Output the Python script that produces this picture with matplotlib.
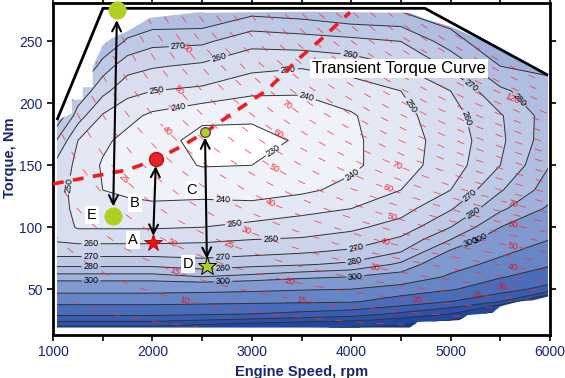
import matplotlib
matplotlib.use("Agg")
import matplotlib.pyplot as plt
import numpy as np
from matplotlib.colors import ListedColormap, BoundaryNorm
from matplotlib.patches import Polygon

plt.rcParams['font.family'] = ['Liberation Sans', 'DejaVu Sans']

# ---- BSFC map (g/kWh) ----
speed_nodes = [1000, 1250, 1500, 1750, 2000, 2500, 3000, 3500, 4000, 4500, 5000, 5500, 6000]
torque_nodes = [15, 20, 25, 30, 40, 50, 60, 70, 80, 90, 100, 115, 130, 150, 170, 190, 210, 230, 250, 280]
bsfc_by_speed = [
    [600, 500, 437, 388, 337, 312, 294, 277, 266, 259, 257, 256, 256, 260, 273, 293, 310, 320, 330, 340],
    [600, 500, 437, 388, 337, 312, 294, 277, 266, 257, 249, 247, 246, 247, 250, 265, 278, 297, 315, 330],
    [600, 500, 437, 388, 337, 312, 294, 277, 266, 257, 249, 243, 240, 239, 242, 249, 263, 275, 291, 315],
    [600, 500, 437, 388, 337, 312, 294, 277, 266, 257, 249, 243, 238, 236, 237, 243, 253, 264, 278, 300],
    [600, 500, 437, 388, 337, 312, 294, 277, 266, 257, 249, 242, 237, 234, 234, 238, 250, 261, 273, 295],
    [620, 520, 450, 393, 339, 313, 290, 274, 266, 258, 250, 243, 237, 229.5, 227, 232, 248, 258, 272, 295],
    [640, 540, 462, 400, 341, 315, 293, 277, 267, 260, 253, 243, 236, 230, 226, 232, 242, 253, 263, 288],
    [660, 560, 475, 412, 343, 318, 297, 279, 269, 261, 255, 247, 238, 233, 231.5, 235, 241, 251, 265, 290],
    [700, 580, 488, 425, 346, 320, 300, 282, 272, 264, 258, 250, 243, 238, 238, 239, 245, 254, 267, 295],
    [750, 620, 520, 460, 368, 329, 305, 292, 280, 272, 264, 256, 250, 246, 246, 247, 250, 260, 270, 295],
    [800, 700, 600, 500, 400, 346, 323, 312, 302, 290, 280, 269, 260, 255, 254, 256, 260, 272, 285, 300],
    [800, 750, 700, 650, 450, 375, 347, 326, 316, 308, 300, 288, 279, 270, 268, 269, 278, 290, 300, 310],
    [800, 780, 760, 740, 600, 420, 370, 346, 330, 320, 313, 302, 295, 290, 286, 285, 287, 292, 300, 310],
]
fill_levels = [220, 230, 240, 250, 260, 270, 280, 290, 300, 320, 350, 400, 450, 500, 600, 900]
line_levels = [230, 240, 250, 260, 270, 280, 290, 300, 320, 350, 400, 450, 500, 600]

# outline of the measured region
map_edge_speed = [1040, 1040, 1190, 1190, 1300, 1300, 1400, 1400, 1500, 1600, 1745, 1975, 2410, 3590,
                  4590, 4750, 5000, 5370, 5800, 5980, 5980, 5830, 5680, 5500, 5420, 5170, 5090, 4670, 4590, 1040]
map_edge_torque = [19, 186, 192, 203, 203, 213, 213, 229, 247, 253, 258, 269, 273, 274,
                   273, 268, 262, 249, 229, 223, 44, 41, 40, 36, 31, 29, 25, 23.5, 19, 19]

# full load torque curve
wot_speed = [1040, 1503, 4742, 5980]
wot_torque = [186.5, 276.7, 276.7, 222.7]

# transient torque curve
trans_speed = [1000, 1744, 2026, 2278, 2549, 2851, 3153, 3485, 3686, 3988]
trans_torque = [135, 146.2, 154.2, 164.7, 177.6, 194.5, 210.6, 237, 250.9, 273.5]

# constant power lines, kW
power_levels = list(range(5, 155, 5))
power_label_speed = [2328, 2227, 3505, 2197, 3384, 4662, 2781, 1704, 5275, 2952, 4239, 5517, 3183, 2137,
                     4340, 5628, 2258, 4410, 5628, 3233, 2348, 3264, 4370, 5628, 3354, 4461, 5628, 5618]
power_label_torque = [42, 64, 41.4, 87.3, 57.5, 41.4, 87.3, 138, 43.3, 97.8, 68, 51.9, 119.5, 176.8,
                      87.3, 68.8, 210.6, 108.3, 84.9, 148.6, 244.5, 176, 131.6, 101, 198.5, 150, 119.7, 202.6]

bsfc_label_speed = [3254, 2258, 3565, 4038, 2710, 2046, 3364, 4591, 2830, 1322, 2660, 3988, 5044, 1382,
                    3193, 2258, 5195, 5195, 1382, 2710, 4058, 5648, 5245, 1382, 2710, 4038, 5265,
                    1382, 2710, 4038, 5316]
bsfc_label_torque = [158, 197, 208, 140, 122, 208, 229, 198, 100, 132, 240, 240, 186, 87,
                     90, 248.6, 213, 126, 74.7, 73.7, 81.7, 200, 110, 66.7, 64.7, 72, 95,
                     56, 56, 61, 87]

# operating points
top_pt = (1644, 275)
e_pt = (1604, 109)
b_pt = (2036, 155)
a_pt = (2006, 87.5)
c_pt = (2529, 176.8)
d_pt = (2549, 69)

letters = ['A', 'B', 'C', 'D', 'E']
letter_speed = [1805, 1825, 2398, 2358, 1392]
letter_torque = [89.6, 119.6, 130, 70.5, 110]

fig = plt.figure(figsize=(5.65, 3.78), dpi=100)
ax = fig.add_axes([53 / 565, 43 / 378, 497 / 565, 332 / 378])

S, T = np.meshgrid(speed_nodes, torque_nodes)
Z = np.array(bsfc_by_speed).T

fill_colors = ['#ffffff', '#eff2f9', '#e3e8f4', '#d7deef', '#cbd4ea', '#bdc9e5', '#afbee1', '#a0b2dc',
               '#8099d0', '#6585c6', '#4a6cbc', '#3a5db3', '#2d51aa', '#1f46a1', '#0c3893']
cmap = ListedColormap(fill_colors)
norm = BoundaryNorm(fill_levels, cmap.N)

edge = Polygon(list(zip(map_edge_speed, map_edge_torque)), closed=True, transform=ax.transData,
               facecolor='none', edgecolor='none')
ax.add_patch(edge)

cf = ax.contourf(S, T, Z, levels=fill_levels, cmap=cmap, norm=norm, zorder=1)
cf.set_clip_path(edge)
cl = ax.contour(S, T, Z, levels=line_levels, colors='#333333', linewidths=0.7, zorder=2)
cl.set_clip_path(edge)
ax.clabel(cl, manual=list(zip(bsfc_label_speed, bsfc_label_torque)),
          inline=True, inline_spacing=2, fontsize=6.5, fmt='%d', colors='k')

# power hyperbolas
ps, pt = np.meshgrid(np.linspace(1000, 6000, 300), np.linspace(10, 285, 300))
power = pt * ps * np.pi / 30000
pc = ax.contour(ps, pt, power, levels=power_levels, colors='#ff3030', linewidths=0.6,
                alpha=0.85, zorder=3)
pc.set_linestyle((0, (9, 16)))
pc.set_clip_path(edge)
ax.clabel(pc, manual=list(zip(power_label_speed, power_label_torque)),
          inline=True, inline_spacing=1, fontsize=6.5, fmt='%d', colors='red')

ax.plot(wot_speed, wot_torque, color='black', lw=2, zorder=4, solid_capstyle='butt')
ax.plot(trans_speed, trans_torque, color='#ee1c1c', lw=2.6, dashes=(3, 2.6), zorder=4)

ax.text(4481, 228, 'Transient Torque Curve', fontsize=12, ha='center', va='center', color='black',
        bbox=dict(boxstyle='square,pad=0.12', fc='white', ec='none'), zorder=7)

arrow = dict(arrowstyle='<->', lw=1.5, color='black', mutation_scale=16)
for p, q, sa, sb in [(top_pt, e_pt, 7, 7), (b_pt, a_pt, 5, 5), (c_pt, d_pt, 4, 5)]:
    ax.annotate('', xy=q, xytext=p, arrowprops=dict(arrow, shrinkA=sa, shrinkB=sb), zorder=5)

green = '#b0d020'
ax.plot(*top_pt, 'o', ms=12, mfc=green, mec=green, zorder=6, clip_on=False)
ax.plot(*e_pt, 'o', ms=12, mfc=green, mec=green, zorder=6)
ax.plot(*b_pt, 'o', ms=10, mfc='#e8202a', mec='#c01010', zorder=6)
ax.plot(*c_pt, 'o', ms=7, mfc=green, mec='#6a3d6a', mew=1, zorder=6)
ax.plot(*a_pt, '*', ms=13, mfc='#f01010', mec='#a00000', mew=0.6, zorder=6)
ax.plot(*d_pt, '*', ms=14, mfc=green, mec='black', mew=0.7, zorder=6)

for s, x, y in zip(letters, letter_speed, letter_torque):
    ax.text(x, y, s, fontsize=10.5, ha='center', va='center', color='black',
            bbox=dict(boxstyle='square,pad=0.12', fc='white', ec='none'), zorder=7)

ax.set_xlim(1000, 6000)
ax.set_ylim(13, 281)
ax.set_xticks(range(1000, 6001, 1000))
ax.set_xticks(range(1500, 6000, 1000), minor=True)
ax.set_yticks(range(50, 251, 50))
navy = '#1a2470'
ax.tick_params(which='both', direction='out', top=True, right=True, length=4, width=1.2,
               labelsize=10, labelcolor=navy)
for sp in ax.spines.values():
    sp.set_linewidth(2)
ax.set_xlabel('Engine Speed, rpm', fontsize=10.5, fontweight='bold', color=navy, labelpad=4)
ax.set_ylabel('Torque, Nm', fontsize=10.5, fontweight='bold', color=navy, va='center')
ax.yaxis.set_label_coords(-0.086, 0.535)

fig.savefig('out.png', dpi=100)
